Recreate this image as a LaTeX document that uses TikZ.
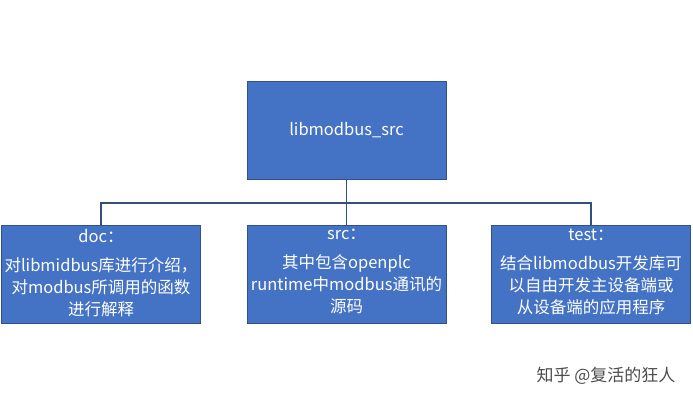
\documentclass[tikz,border=0pt]{standalone}
\usepackage{fontspec}
\setmainfont{Noto Sans CJK SC}
\usetikzlibrary{backgrounds}
\begin{document}
\begin{tikzpicture}[x=1pt,y=-1pt,
  box/.style={draw={rgb,255:red,47;green,82;blue,143}, line width=0.8pt, fill={rgb,255:red,68;green,114;blue,196}, minimum width=199pt, minimum height=98pt, inner sep=0pt},
  txt/.style={text=white, align=center, font=\fontsize{16.5}{22}\selectfont, inner sep=0pt, anchor=north},
  conn/.style={draw={rgb,255:red,50;green,80;blue,120}, line width=1.3pt}]
\useasboundingbox (0,0) rectangle (693,404);
\node[box] (top) at (346.5,130) {};
\node[text=white, font=\fontsize{16.5}{20}\selectfont] (tt) at (top) {libmodbus\_src};
\node[box] (l) at (101,274) {};
\node[box] (m) at (346.5,274) {};
\node[box] (r) at (591,274) {};
\node[txt] (lt) at (101,229) {doc：\\[7pt]对libmidbus库进行介绍，\\对modbus所调用的函数\\进行解释};
\node[txt] (mt) at (346.5,229) {src：\\[7pt]其中包含openplc\\runtime中modbus通讯的\\源码};
\node[txt] (rt) at (591,229) {test：\\[7pt]结合libmodbus开发库可\\以自由开发主设备端或\\从设备端的应用程序};
\begin{scope}[on background layer]
\coordinate (j) at (346.5,203);
\draw[conn] (top.south) -- (j);
\draw[conn] (l.north) |- (j) -| (r.north);
\draw[conn] (j) -- (m.north);
\end{scope}
\node[text=gray!60!black, font=\fontsize{17}{18}\selectfont, anchor=east] (wm) at (679,376) {知乎 @复活的狂人};
\end{tikzpicture}
\end{document}
